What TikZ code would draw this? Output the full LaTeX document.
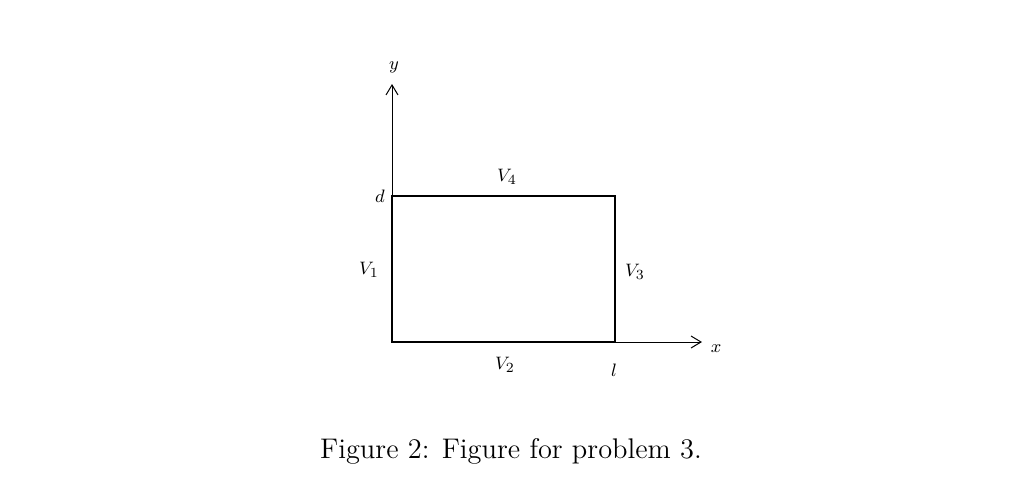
\documentclass[tikz,border=0pt]{standalone}
\usetikzlibrary{arrows.meta}
\begin{document}
\begin{tikzpicture}[x=0.5pt,y=-0.5pt,
  lab/.style={font=\fontsize{9.5}{11}\selectfont, inner sep=0pt},
  ax/.style={line width=0.5pt,-{Straight Barb[length=5pt,width=6pt]}}]
\useasboundingbox (0,0) rectangle (1024,493);
\coordinate (O) at (392,342);
\coordinate (D) at (392,196);
\coordinate (C) at (615,196);
\coordinate (L) at (615,342);
\coordinate (Ytip) at (392,84);
\coordinate (Xtip) at (702,342);
\draw[ax] (O) -- (Ytip);
\draw[ax] (L) -- (Xtip);
\draw[line width=1.3pt] (O) -- (D) -- (C) -- (L) -- cycle;
\node[lab] (y) at (394,67) {$y$};
\node[lab] (x) at (716,349) {$x$};
\node[lab] (d) at (380,196) {$d$};
\node[lab] (v4) at (507,177) {$V_4$};
\node[lab] (v1) at (369,270) {$V_1$};
\node[lab] (v3) at (635,272) {$V_3$};
\node[lab] (v2) at (505,365) {$V_2$};
\node[lab] (l) at (614,370) {$l$};
\node[font=\fontsize{14.2}{17}\selectfont] (cap) at (511,451) {Figure 2: Figure for problem 3.};
\end{tikzpicture}
\end{document}
